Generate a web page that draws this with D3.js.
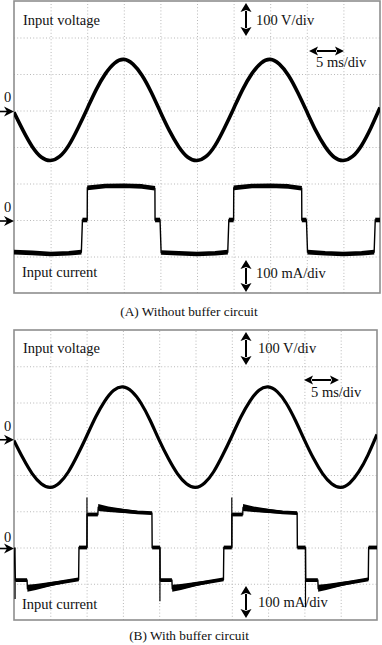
<!DOCTYPE html>
<html>
<head>
<meta charset="utf-8">
<script src="https://cdn.jsdelivr.net/npm/d3@7"></script>
<style>
  html, body { margin: 0; padding: 0; background: #fff; }
  svg { display: block; }
  text { font-family: "Liberation Serif", "Times New Roman", serif; fill: #111; }
</style>
</head>
<body>
<svg id="chart" width="382" height="645"></svg>
<script>
// ---------------- DATA ----------------
const timeTicks = [0, 5, 10, 15, 20, 25, 30, 35, 40, 45, 50];          // ms (5 ms/div)
const voltTicks = [-500, -400, -300, -200, -100, 0, 100, 200, 300];    // V (100 V/div)
const currTicks = [-200, -100, 0, 100, 200, 300, 400, 500, 600];       // mA (100 mA/div)

// voltage samples every 1.25 ms, 0..50 ms
const sampleTimes = d3.range(0, 50.001, 1.25);
const voltageA = [-5,-55,-99,-128,-137,-126,-95,-48, 5,58,101,130,140,127,96,50,
                  -4,-56,-99,-128,-137,-126,-95,-48, 5,58,101,130,140,127,96,50,
                  -3,-56,-99,-128,-137,-126,-95,-48, 8];
const voltageB = [-5,-54,-96,-124,-134,-122,-91,-45, 7,60,104,134,143,130,98,51,
                  -4,-54,-96,-124,-134,-122,-91,-45, 7,60,104,134,143,130,98,51,
                  -3,-54,-96,-124,-134,-122,-91,-45, 12];

// input current traces [ms, mA]
const currentA = [[0,-88],[2.5,-90],[5,-93],[7.5,-91],[9.2,-88],[9.35,0],[10,0],[10.02,88],
  [12.5,93],[15,94],[17.5,92],[19.25,87],[19.27,0],[19.95,0],[20.1,-89],[22.5,-91],[25,-93],
  [27.5,-91],[29.2,-88],[29.35,0],[30,0],[30.02,88],[32.5,93],[35,94],[37.5,92],[39.3,87],
  [39.32,0],[39.95,0],[40.1,-88],[42.5,-91],[45,-93],[47.5,-91],[49.2,-88],[49.35,0],[50,0]];

const currentB = [[0,0],[0.2,-90],[1.8,-90],[1.85,-113],[3,-109],[5,-101],[7,-94],[8.9,-88],
  [8.95,0],[10.05,0],[10.07,91],[11.55,91],[11.6,110],[13,105],[15,101],[17,97],[19,95],
  [19.03,0],[20.1,0],[20.13,-90],[21.75,-90],[21.8,-113],[23,-109],[25,-101],[27,-94],[28.85,-88],
  [28.9,0],[30.0,0],[30.02,91],[31.5,91],[31.55,110],[33,105],[35,101],[37,97],[39,95],
  [39.03,0],[40.15,0],[40.18,-90],[41.85,-90],[41.9,-113],[43,-109],[45,-101],[47,-94],[48.8,-88],
  [48.85,0],[50,0]];

// thin switching spikes [ms, from mA, to mA]
const spikesB = [[0.15,0,-142],[10.05,0,138],[20.1,0,-148],[30.0,0,138],[40.15,0,-165]];

// noisy band envelopes [ms, low mA, high mA]
const bandsB = [
  [[1.85,-122,-103],[3,-117,-101],[5,-107,-95],[7,-98,-90],[8.9,-91,-85]],
  [[11.6,101,120],[13,98,113],[15,95,107],[17,93,101],[19,92,98]],
  [[21.8,-122,-103],[23,-117,-101],[25,-107,-95],[27,-98,-90],[28.85,-91,-85]],
  [[31.55,101,120],[33,98,113],[35,95,107],[37,93,101],[39,92,98]],
  [[41.9,-122,-103],[43,-117,-101],[45,-107,-95],[47,-98,-90],[48.8,-91,-85]]
];

const labels = {
  volt: "Input voltage", curr: "Input current",
  vdiv: "100 V/div", idiv: "100 mA/div", tdiv: "5 ms/div", zero: "0"
};
const captions = ["(A) Without buffer circuit", "(B) With buffer circuit"];

// ---------------- LAYOUT ----------------
const panels = [
  { box: {l: 14, r: 380, t: 1, b: 293}, voltage: voltageA, current: currentA, spikes: [], bands: [],
    lw: {v: 3.6, i: 4.6}, txt: {volt: 25, vdivY: 25, vArrow: [3, 36], tdivX: 316, tdivY: 67, tArrow: [309, 344, 51],
      curr: 277, idivY: 278, iArrow: [260, 292], zeroV: 102, zeroI: 212, vdivX: 256, cap: 316 } },
  { box: {l: 14, r: 377, t: 330, b: 620}, voltage: voltageB, current: currentB, spikes: spikesB, bands: bandsB,
    lw: {v: 3.2, i: 3.8}, txt: {volt: 353, vdivY: 353, vArrow: [332, 365], tdivX: 311, tdivY: 397, tArrow: [304, 339, 380],
      curr: 609, idivY: 607, iArrow: [586, 618], zeroV: 431, zeroI: 542, vdivX: 258, cap: 640 } }
];

const svg = d3.select("#chart");
svg.append("rect").attr("width", 382).attr("height", 645).attr("fill", "#fff");

function vArrow(g, x, y1, y2) {
  const hw = 5.5, hl = 9;
  g.append("line").attr("x1", x).attr("x2", x).attr("y1", y1 + hl - 1).attr("y2", y2 - hl + 1)
    .attr("stroke", "#000").attr("stroke-width", 2);
  g.append("path").attr("d", `M${x},${y1} L${x+hw},${y1+hl} L${x},${y1+hl-2} L${x-hw},${y1+hl} Z`).attr("fill", "#000");
  g.append("path").attr("d", `M${x},${y2} L${x+hw},${y2-hl} L${x},${y2-hl+2} L${x-hw},${y2-hl} Z`).attr("fill", "#000");
}
function hArrow(g, x1, x2, y) {
  const hw = 4.5, hl = 9;
  g.append("line").attr("x1", x1 + hl - 1).attr("x2", x2 - hl + 1).attr("y1", y).attr("y2", y)
    .attr("stroke", "#000").attr("stroke-width", 2);
  g.append("path").attr("d", `M${x1},${y} L${x1+hl},${y-hw} L${x1+hl-2},${y} L${x1+hl},${y+hw} Z`).attr("fill", "#000");
  g.append("path").attr("d", `M${x2},${y} L${x2-hl},${y-hw} L${x2-hl+2},${y} L${x2-hl},${y+hw} Z`).attr("fill", "#000");
}
function zeroArrow(g, x, y) {
  g.append("line").attr("x1", 0).attr("x2", x - 6).attr("y1", y).attr("y2", y).attr("stroke", "#000").attr("stroke-width", 1.6);
  g.append("path").attr("d", `M${x},${y} L${x-10},${y-5} L${x-7},${y} L${x-10},${y+5} Z`).attr("fill", "#000");
}

panels.forEach((p, idx) => {
  const {l, r, t, b} = p.box;
  const g = svg.append("g");
  const x = d3.scaleLinear().domain([0, 50]).range([l, r]);
  const yV = d3.scaleLinear().domain([-500, 300]).range([b, t]);
  const yI = d3.scaleLinear().domain([-200, 600]).range([b, t]);

  // grid via axes
  const gx = g.append("g").attr("transform", `translate(0,${b})`)
    .call(d3.axisBottom(x).tickValues(timeTicks.slice(1, -1)).tickSize(-(b - t)).tickFormat(""));
  const gy = g.append("g").attr("transform", `translate(${l},0)`)
    .call(d3.axisLeft(yV).tickValues(voltTicks.slice(1, -1)).tickSize(-(r - l)).tickFormat(""));
  [gx, gy].forEach(a => {
    a.select(".domain").remove();
    a.selectAll(".tick line").attr("stroke", "#b8b8b8").attr("stroke-width", 1).attr("stroke-dasharray", "1,2.2");
  });

  // border
  g.append("rect").attr("x", l).attr("y", t).attr("width", r - l).attr("height", b - t)
    .attr("fill", "none").attr("stroke", "#8e8e8e").attr("stroke-width", 1.6);

  const clipId = "clip" + idx;
  svg.append("clipPath").attr("id", clipId).append("rect")
    .attr("x", l).attr("y", t).attr("width", r - l).attr("height", b - t);
  const plot = g.append("g").attr("clip-path", `url(#${clipId})`);

  // voltage
  const vLine = d3.line().x((d, i) => x(sampleTimes[i])).y(d => yV(d)).curve(d3.curveNatural);
  plot.append("path").attr("d", vLine(p.voltage)).attr("fill", "none")
    .attr("stroke", "#000").attr("stroke-width", p.lw.v).attr("stroke-linejoin", "round");

  // noise bands
  const area = d3.area().x(d => x(d[0])).y0(d => yI(d[1])).y1(d => yI(d[2]));
  p.bands.forEach(bd => plot.append("path").attr("d", area(bd)).attr("fill", "#000"));

  // current: thin transitions, thick levels
  const cur = p.current;
  const line = d3.line().x(d => x(d[0])).y(d => yI(d[1]));
  plot.append("path").attr("d", line(cur)).attr("fill", "none").attr("stroke", "#000").attr("stroke-width", 1.4);
  let run = [cur[0]];
  const runs = [];
  for (let i = 1; i < cur.length; i++) {
    const dt = cur[i][0] - cur[i - 1][0];
    if (dt > 0.25) { run.push(cur[i]); }
    else { if (run.length > 1) runs.push(run); run = [cur[i]]; }
  }
  if (run.length > 1) runs.push(run);
  runs.forEach(rn => plot.append("path").attr("d", line(rn)).attr("fill", "none")
    .attr("stroke", "#000").attr("stroke-width", p.lw.i).attr("stroke-linejoin", "round"));

  // spikes
  p.spikes.forEach(s => plot.append("line").attr("x1", x(s[0])).attr("x2", x(s[0]))
    .attr("y1", yI(s[1])).attr("y2", yI(s[2])).attr("stroke", "#000").attr("stroke-width", 1.2));

  // annotations
  const T = p.txt;
  g.append("text").attr("x", l + 9).attr("y", T.volt).attr("font-size", 14.5).text(labels.volt);
  g.append("text").attr("x", T.vdivX).attr("y", T.vdivY).attr("font-size", 14.5).text(labels.vdiv);
  vArrow(g, 246, T.vArrow[0], T.vArrow[1]);
  hArrow(g, T.tArrow[0], T.tArrow[1], T.tArrow[2]);
  g.append("text").attr("x", T.tdivX).attr("y", T.tdivY).attr("font-size", 14.5).text(labels.tdiv);
  g.append("text").attr("x", l + 8).attr("y", T.curr).attr("font-size", 14.5).text(labels.curr);
  g.append("text").attr("x", T.vdivX).attr("y", T.idivY).attr("font-size", 14.5).text(labels.idiv);
  vArrow(g, 246, T.iArrow[0], T.iArrow[1]);

  g.append("text").attr("x", 4).attr("y", T.zeroV).attr("font-size", 14.5).text(labels.zero);
  zeroArrow(g, l, yV(0) + 1);
  g.append("text").attr("x", 4).attr("y", T.zeroI).attr("font-size", 14.5).text(labels.zero);
  zeroArrow(g, l, yI(0) + 1);

  g.append("text").attr("x", 189).attr("y", T.cap).attr("text-anchor", "middle")
    .attr("font-size", 13.3).text(captions[idx]);
});
</script>
</body>
</html>
